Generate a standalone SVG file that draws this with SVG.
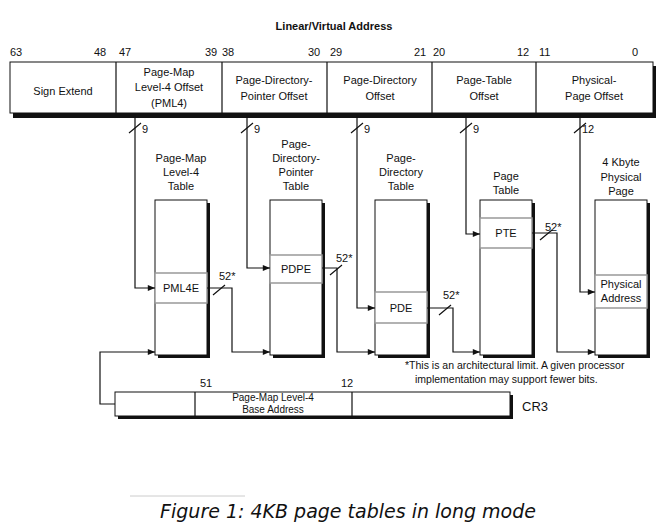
<svg xmlns="http://www.w3.org/2000/svg" width="663" height="528" viewBox="0 0 663 528">
<style>
text{font-family:"Liberation Sans",Arial,sans-serif;font-size:11px;fill:#111}
.c{text-anchor:middle}
.b{fill:#fff;stroke:#111;stroke-width:1}
.e{fill:#fff;stroke:#999;stroke-width:1.5}
.sh{fill:#111}
.w{fill:none;stroke:#111;stroke-width:1.2}
.s{stroke:#111;stroke-width:1.2}
</style>
<defs><marker id="a" viewBox="0 0 10 10" refX="10" refY="5" markerWidth="8" markerHeight="6" orient="auto"><path d="M0,1 L10,5 L0,9z" fill="#111"/></marker></defs>
<rect width="663" height="528" fill="#fff"/>
<text class="c" x="334" y="30" style="font-weight:bold;font-size:11px">Linear/Virtual Address</text>
<g id="addr">
<rect class="sh" x="13" y="66" width="643" height="52"/>
<rect class="b" x="10" y="62" width="643" height="51"/>
<path class="s" d="M116,62V113M222,62V113M327,62V113M432,62V113M536,62V113"/>
<g style="font-size:12px">
<text x="10" y="56">63</text><text x="94" y="56">48</text><text x="119" y="56">47</text><text x="205" y="56">39</text><text x="222" y="56">38</text><text x="308" y="56">30</text><text x="330" y="56">29</text><text x="414" y="56">21</text><text x="433" y="56">20</text><text x="517" y="56">12</text><text x="539" y="56">11</text><text x="632" y="56">0</text>
</g>
<g style="font-size:12px">
<text class="c" x="63" y="95">Sign Extend</text>
<text class="c" x="169" y="76">Page-Map</text><text class="c" x="169" y="91">Level-4 Offset</text><text class="c" x="169" y="107">(PML4)</text>
<text class="c" x="274" y="84">Page-Directory-</text><text class="c" x="274" y="100">Pointer Offset</text>
<text class="c" x="380" y="84">Page-Directory</text><text class="c" x="380" y="100">Offset</text>
<text class="c" x="484" y="84">Page-Table</text><text class="c" x="484" y="100">Offset</text>
<text class="c" x="594" y="84">Physical-</text><text class="c" x="594" y="100">Page Offset</text>
</g>
</g>
<g id="pml4"><rect class="sh" x="158" y="203" width="52" height="155"/><rect class="b" x="155" y="200" width="52" height="155"/><rect class="e" x="155" y="273" width="52" height="30"/><text class="c" x="181" y="292">PML4E</text>
<text class="c" x="181" y="162">Page-Map</text><text class="c" x="181" y="176">Level-4</text><text class="c" x="181" y="190">Table</text></g>
<g id="pdp"><rect class="sh" x="273" y="203" width="52" height="155"/><rect class="b" x="270" y="200" width="52" height="155"/><rect class="e" x="270" y="255" width="52" height="28"/><text class="c" x="296" y="273">PDPE</text>
<text class="c" x="296" y="148">Page-</text><text class="c" x="296" y="162">Directory-</text><text class="c" x="296" y="176">Pointer</text><text class="c" x="296" y="190">Table</text></g>
<g id="pd"><rect class="sh" x="378" y="203" width="52" height="155"/><rect class="b" x="375" y="200" width="52" height="155"/><rect class="e" x="375" y="292" width="52" height="31"/><text class="c" x="401" y="312">PDE</text>
<text class="c" x="401" y="162">Page-</text><text class="c" x="401" y="176">Directory</text><text class="c" x="401" y="190">Table</text></g>
<g id="pt"><rect class="sh" x="483" y="203" width="52" height="155"/><rect class="b" x="480" y="200" width="52" height="155"/><rect class="e" x="480" y="218" width="52" height="30"/><text class="c" x="506" y="237">PTE</text>
<text class="c" x="506" y="180">Page</text><text class="c" x="506" y="194">Table</text></g>
<g id="page"><rect class="sh" x="598" y="203" width="52" height="155"/><rect class="b" x="595" y="200" width="52" height="155"/><rect class="e" x="595" y="275" width="52" height="33"/><text class="c" x="621" y="288">Physical</text><text class="c" x="621" y="302">Address</text>
<text class="c" x="621" y="166">4 Kbyte</text><text class="c" x="621" y="181">Physical</text><text class="c" x="621" y="195">Page</text></g>
<g id="cr3"><rect class="sh" x="118" y="395" width="395" height="24"/><rect class="b" x="115" y="392" width="395" height="24"/><path class="s" d="M195,392V416M352,392V416"/>
<text class="c" x="273" y="401" style="font-size:10px">Page-Map Level-4</text><text class="c" x="273" y="413" style="font-size:10px">Base Address</text>
<text x="200" y="387">51</text><text x="341" y="387">12</text><text x="522" y="411" style="font-size:13px">CR3</text></g>
<g id="connectors">
<path class="w" marker-end="url(#a)" d="M135,113V288H155"/>
<path class="w" marker-end="url(#a)" d="M247,113V268H270"/>
<path class="w" marker-end="url(#a)" d="M357,113V308H375"/>
<path class="w" marker-end="url(#a)" d="M466,113V234H480"/>
<path class="w" marker-end="url(#a)" d="M580,113V292H595"/>
<path class="w" marker-end="url(#a)" d="M207,288H232V352H270"/>
<path class="w" marker-end="url(#a)" d="M322,268H337V352H375"/>
<path class="w" marker-end="url(#a)" d="M427,308H453V352H480"/>
<path class="w" marker-end="url(#a)" d="M532,233H557V352H595"/>
<path class="w" marker-end="url(#a)" d="M115,404H100V352H155"/>
<path class="s" d="M129,133L141,123M241,133L253,123M351,133L363,123M460,133L472,123M574,133L586,123M213,295L225,285M330,275L342,265M439,315L451,305M540,240L552,230"/>
<text x="142" y="133">9</text><text x="254" y="133">9</text><text x="364" y="133">9</text><text x="473" y="133">9</text><text x="582" y="133">12</text>
<text x="219" y="280">52*</text><text x="336" y="262">52*</text><text x="443" y="299">52*</text><text x="545" y="231">52*</text>
</g>
<text x="405" y="369" style="font-size:10.5px">*This is an architectural limit. A given processor</text>
<text x="415" y="383" style="font-size:10.5px">implementation may support fewer bits.</text>
<line x1="130" y1="496" x2="245" y2="496" stroke="#ccc"/>
<text class="c" x="348" y="518" style="font-family:'DejaVu Sans',Verdana,sans-serif;font-style:italic;font-size:19px">Figure 1: 4KB page tables in long mode</text>
</svg>
